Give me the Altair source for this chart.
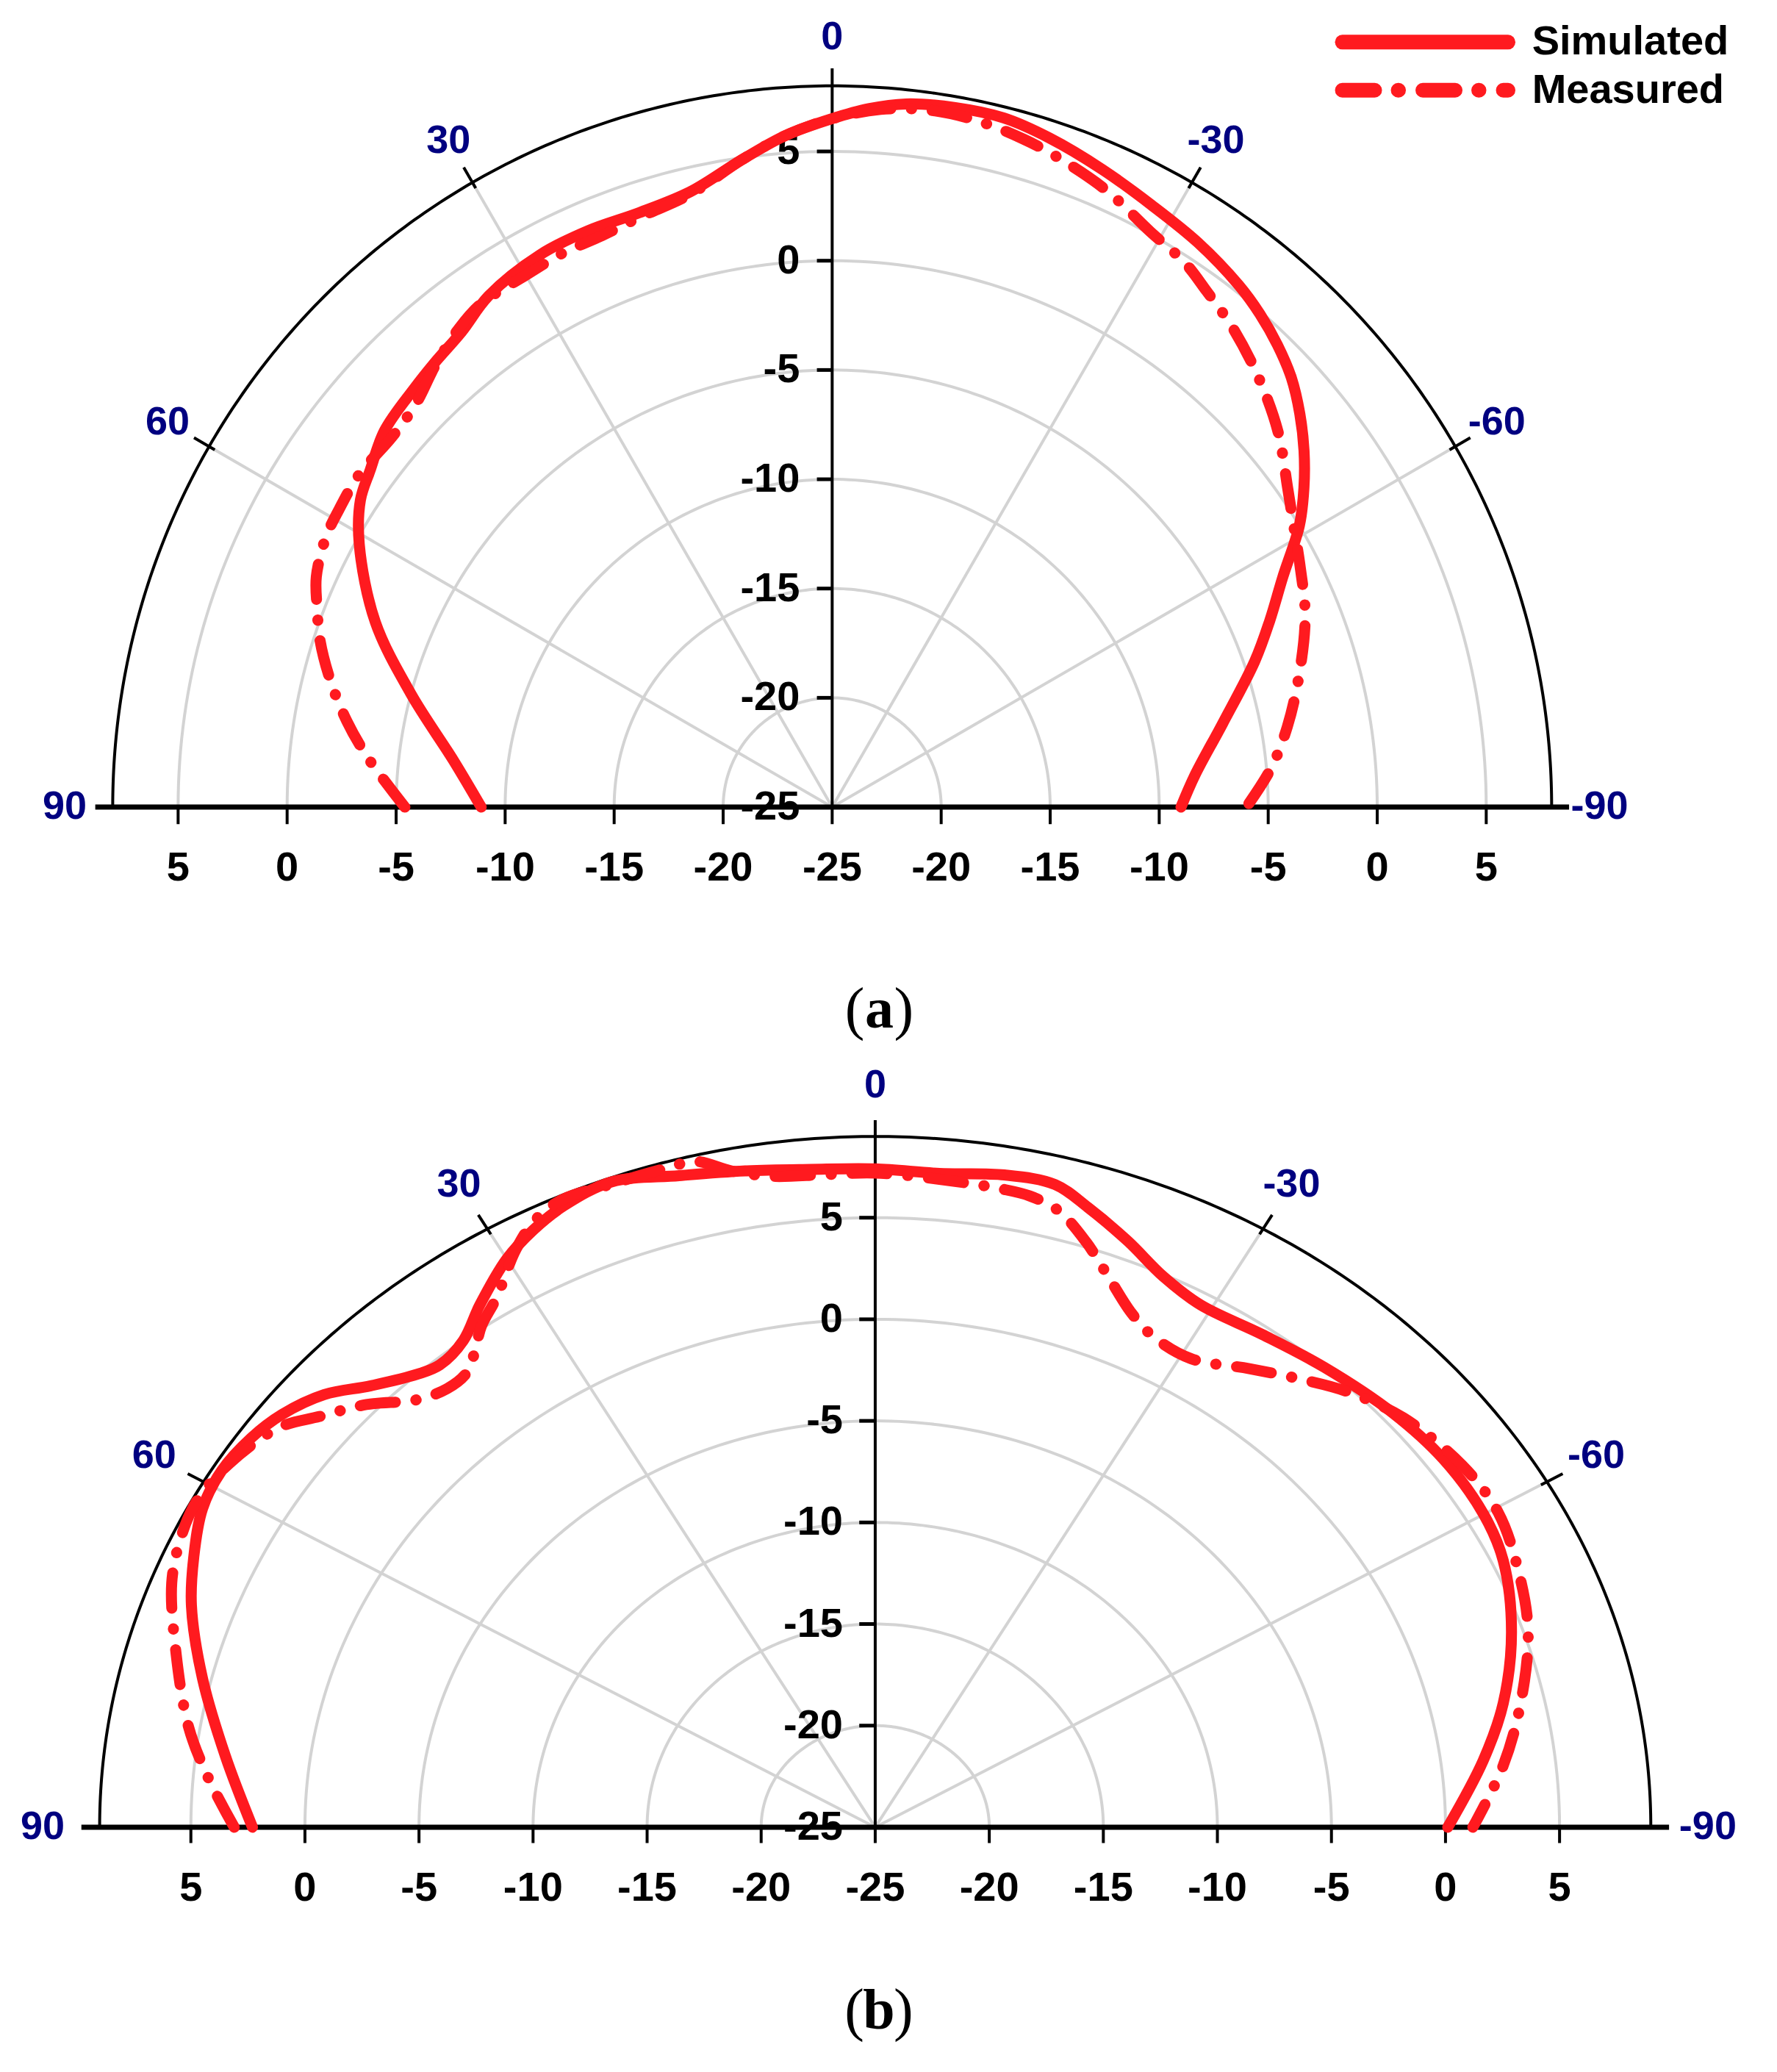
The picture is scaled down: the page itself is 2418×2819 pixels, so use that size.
import altair as alt
import pandas as pd

# ------------------------------------------------------------------ data
series_names = ["Simulated", "Measured"]

# (a) angles in degrees (positive = left side), gain in dB
a_sim_ang = [90, 83, 75, 68, 61, 57, 54, 50, 45, 42, 38, 34, 28, 23, 18, 13, 8, 4, 0, -3,
             -6, -10, -14, -18, -23, -28, -33, -38, -41, -44, -47, -50, -53, -56, -59, -63,
             -67, -71, -78, -85, -90]
a_sim_db = [-8.9, -7.5, -5.0, -2.4, -0.2, 0.8, 1.2, 1.8, 2.1, 2.3, 2.6, 3.2, 3.6, 3.65, 3.6,
            3.9, 4.9, 5.8, 6.5, 7.0, 7.35, 7.5, 7.5, 7.2, 6.7, 6.2, 5.8, 5.3, 4.9, 4.4, 3.8,
            3.0, 2.1, 1.1, 0.0, -1.8, -3.2, -4.5, -6.7, -8.3, -9.0]
a_meas_ang = [90, 84, 80, 76, 72, 69, 66, 62, 59, 55, 50, 46, 42, 38, 35, 30, 26, 22, 18, 13,
              8, 4, 0, -4, -8, -12, -16, -19, -24, -29, -33, -36, -40, -45, -50, -55, -58,
              -63, -68, -74, -80, -85, -90]
a_meas_db = [-5.4, -3.6, -2.4, -1.3, -0.3, 0.3, 0.9, 1.3, 1.4, 1.5, 1.35, 1.55, 2.2, 2.8, 3.1,
             3.1, 3.2, 3.2, 3.4, 3.8, 4.9, 5.8, 6.5, 7.0, 7.2, 7.1, 6.8, 6.5, 5.9, 5.1, 4.7,
             4.2, 3.6, 2.7, 1.7, 0.5, -0.1, -0.9, -1.6, -2.7, -3.8, -4.8, -6.0]

# (b)
b_sim_ang = [90, 83, 76, 70, 66, 62, 58.5, 55, 52, 48.6, 45.5, 42, 40, 37, 34, 30, 27, 24, 20,
             15, 10, 5, 0, -5, -10, -14, -17, -21, -25, -29, -35, -41, -48, -54, -60, -64.5,
             -71, -77.5, -83, -90]
b_sim_db = [2.3, 3.7, 5.4, 6.9, 7.7, 8.4, 8.6, 8.4, 8.0, 7.2, 6.0, 5.0, 4.7, 5.0, 6.0, 7.3,
            8.0, 8.5, 8.8, 8.2, 7.8, 7.5, 7.4, 7.3, 7.6, 7.6, 6.9, 5.9, 4.9, 4.4, 4.6, 5.0,
            5.5, 5.8, 5.8, 5.5, 4.5, 3.2, 1.85, 0.1]
b_meas_ang = [90, 85.4, 80.7, 74.5, 68.7, 65, 61.7, 57.7, 53, 50.3, 47, 43.7, 41, 38.7, 37,
              35, 32.5, 29, 26.5, 24, 20, 16, 13.5, 11, 8, 4, 0, -5.5, -10, -12.3, -14.8,
              -17.8, -20.8, -23.9, -26.8, -31, -36, -40.3, -44, -49, -55.3, -60.4, -65.8,
              -71.4, -77.8, -83.7, -90]
b_meas_db = [3.1, 4.3, 5.5, 6.8, 8.1, 8.6, 8.8, 8.5, 7.7, 6.65, 5.5, 4.1, 3.6, 3.65, 4.2,
             5.1, 5.9, 7.5, 8.4, 8.8, 8.7, 8.7, 8.7, 7.9, 7.35, 7.2, 7.2, 7.0, 6.9, 6.8, 6.4,
             5.25, 3.9, 2.7, 2.05, 1.9, 2.9, 3.9, 4.8, 5.7, 6.3, 6.4, 5.9, 5.2, 3.95, 2.7, 1.2]

ring_db = [-20, -15, -10, -5, 0, 5]
spoke_angles = [30, 60, -30, -60]
angle_labels = [0, 30, 60, 90, -30, -60, -90]
radial_ticks = [5, 0, -5, -10, -15, -20, -25]

# ------------------------------------------------------------------ style
RED = "#ff1a1f"
NAVY = "#000080"
GRID = "#d3d3d3"
SANS = "Liberation Sans, Arial, Helvetica, sans-serif"
SERIF = "Liberation Serif, Times New Roman, serif"
MEAS_DASH = [48, 28, 0.5, 28]


def curve_df(ang_s, db_s, ang_m, db_m):
    rows = []
    for name, angs, dbs in ((series_names[0], ang_s, db_s), (series_names[1], ang_m, db_m)):
        for i, (a, d) in enumerate(zip(angs, dbs)):
            rows.append({"series": name, "angle": a, "db": d, "i": i})
    return pd.DataFrame(rows)


def panel(R, xdom, ydom, W, H, lab_r, curves, caption, cap_xy, legend=False):
    X = alt.Scale(domain=xdom, nice=False, zero=False)
    Y = alt.Scale(domain=ydom, nice=False, zero=False)

    def xy(xf="x", yf="y"):
        return dict(x=alt.X(f"{xf}:Q", scale=X, axis=None),
                    y=alt.Y(f"{yf}:Q", scale=Y, axis=None))

    def polar(ch, r="r", a="angle", xn="x", yn="y"):
        return (ch.transform_calculate(**{xn: f"-datum.{r}*sin(datum.{a}*PI/180)"})
                  .transform_calculate(**{yn: f"datum.{r}*cos(datum.{a}*PI/180)"}))

    layers = []

    # grey grid rings
    rings = alt.Chart(pd.DataFrame({"db": ring_db})).transform_calculate(
        angle="sequence(-90, 90.5, 1)").transform_flatten(["angle"]).transform_calculate(
        r="datum.db + 25")
    rings = polar(rings).mark_line(color=GRID, strokeWidth=4).encode(
        detail="db:N", order="angle:Q", **xy())
    layers.append(rings)

    # spokes
    sp = alt.Chart(pd.DataFrame({"angle": spoke_angles})).transform_calculate(
        r=str(R)).transform_calculate(x0="0").transform_calculate(y0="0")
    sp = polar(sp, xn="x2", yn="y2").mark_rule(color=GRID, strokeWidth=4).encode(
        x2="x2:Q", y2="y2:Q", **xy("x0", "y0"))
    layers.append(sp)

    # outer black ring
    outer = alt.Chart(pd.DataFrame({"rr": [R]})).transform_calculate(
        angle="sequence(-90, 90.25, 0.5)").transform_flatten(["angle"]).transform_calculate(
        r="datum.rr")
    outer = polar(outer).mark_line(color="black", strokeWidth=4).encode(
        order="angle:Q", **xy())
    layers.append(outer)

    # outer ticks
    ot = alt.Chart(pd.DataFrame({"angle": spoke_angles})).transform_calculate(
        r1=str(R - 0.3)).transform_calculate(r2=str(R + 0.8))
    ot = polar(polar(ot, r="r1", xn="x1", yn="y1"), r="r2", xn="x2", yn="y2").mark_rule(
        color="black", strokeWidth=4).encode(x2="x2:Q", y2="y2:Q", **xy("x1", "y1"))
    layers.append(ot)

    # vertical axis and baseline
    ax = pd.DataFrame({"x1": [0, -(R + 0.8)], "y1": [0, 0],
                       "x2": [0, R + 0.8], "y2": [R + 0.8, 0], "w": ["v", "h"]})
    layers.append(alt.Chart(ax).transform_filter("datum.w == 'v'").mark_rule(
        color="black", strokeWidth=4).encode(x2="x2:Q", y2="y2:Q", **xy("x1", "y1")))
    layers.append(alt.Chart(ax).transform_filter("datum.w == 'h'").mark_rule(
        color="black", strokeWidth=7).encode(x2="x2:Q", y2="y2:Q", **xy("x1", "y1")))

    # radial axis ticks + labels (along the vertical axis)
    rt = pd.DataFrame({"v": radial_ticks})
    rt["y"] = rt["v"] + 25
    rt["x"] = 0.0
    rt["xl"] = -0.7
    rt["lab"] = rt["v"].astype(str)
    layers.append(alt.Chart(rt).transform_filter("datum.v > -25").mark_rule(
        color="black", strokeWidth=5).encode(x2="xl:Q", **xy()))
    layers.append(alt.Chart(rt).mark_text(
        align="right", baseline="middle", dx=-44, font=SANS, fontWeight="bold",
        fontSize=56, color="black").encode(text="lab:N", **xy()))

    # bottom axis ticks + labels
    rows = []
    for side in (-1, 1):
        for v in radial_ticks:
            if side == 1 and v == -25:
                continue
            rows.append({"x": side * (v + 25), "y": 0.0, "y2": -0.78, "lab": str(v)})
    bt = pd.DataFrame(rows)
    layers.append(alt.Chart(bt).mark_rule(color="black", strokeWidth=4).encode(
        y2="y2:Q", **xy()))
    layers.append(alt.Chart(bt).mark_text(
        align="center", baseline="middle", dy=83, font=SANS, fontWeight="bold",
        fontSize=56, color="black").encode(text="lab:N", **xy()))

    # angle labels
    al = alt.Chart(pd.DataFrame({"angle": angle_labels})).transform_calculate(
        r=str(lab_r)).transform_calculate(lab="toString(datum.angle)")
    al = polar(al).mark_text(align="center", baseline="middle", font=SANS,
                             fontWeight="bold", fontSize=54, color=NAVY).encode(
        text="lab:N", **xy())
    layers.append(al)

    # curves
    base = alt.Chart(curves).transform_calculate(r="datum.db + 25")
    base = polar(base)
    layers.append(base.transform_filter(f"datum.series == '{series_names[0]}'").mark_line(
        color=RED, strokeWidth=15, strokeCap="round", strokeJoin="round",
        interpolate="catmull-rom").encode(order="i:Q", **xy()))
    layers.append(base.transform_filter(f"datum.series == '{series_names[1]}'").mark_line(
        color=RED, strokeWidth=15, strokeCap="round", strokeJoin="round",
        strokeDash=MEAS_DASH, interpolate="catmull-rom").encode(order="i:Q", **xy()))

    # caption "(a)" / "(b)"
    cap = pd.DataFrame({"x": [cap_xy[0]], "y": [cap_xy[1]]})
    layers.append(alt.Chart(cap).mark_text(
        text="(", align="right", baseline="middle", dx=-20, font=SERIF, fontSize=80,
        color="black").encode(**xy()))
    layers.append(alt.Chart(cap).mark_text(
        text=caption, align="center", baseline="middle", font=SERIF, fontWeight="bold",
        fontSize=78, color="black").encode(**xy()))
    layers.append(alt.Chart(cap).mark_text(
        text=")", align="left", baseline="middle", dx=20, font=SERIF, fontSize=80,
        color="black").encode(**xy()))

    if legend:
        lg = pd.DataFrame({"series": series_names, "x1": [23.4, 23.4], "x2": [31.0, 31.0],
                           "y": [35.0, 32.8], "xt": [32.1, 32.1]})
        layers.append(alt.Chart(lg).transform_filter(
            f"datum.series == '{series_names[0]}'").mark_rule(
            color=RED, strokeWidth=20, strokeCap="round").encode(
            x2="x2:Q", **xy("x1", "y")))
        layers.append(alt.Chart(lg).transform_filter(
            f"datum.series == '{series_names[1]}'").mark_rule(
            color=RED, strokeWidth=20, strokeCap="round",
            strokeDash=[44, 32, 0.5, 33]).encode(x2="x2:Q", **xy("x1", "y")))
        layers.append(alt.Chart(lg).mark_text(
            align="left", baseline="middle", font=SANS, fontWeight="bold", fontSize=56,
            color="black").encode(text="series:N", **xy("xt", "y")))

    return alt.layer(*layers).properties(width=W, height=H)


top = panel(33, [-37.9, 43.0], [-11.5, 36.66], 2400, 1432, 35.2,
            curve_df(a_sim_ang, a_sim_db, a_meas_ang, a_meas_db), "a", (2.16, -9.32),
            legend=True)
bottom = panel(34, [-38.11, 39.21], [-11.76, 37.84], 2400, 1371, 36.5,
               curve_df(b_sim_ang, b_sim_db, b_meas_ang, b_meas_db), "b", (0.16, -9.08))

chart = alt.vconcat(top, bottom, spacing=0).resolve_scale(
    x="independent", y="independent").properties(
    padding=0, background="white").configure_view(stroke=None)

chart.save("out.html", embed_options={"renderer": "svg", "actions": False})
